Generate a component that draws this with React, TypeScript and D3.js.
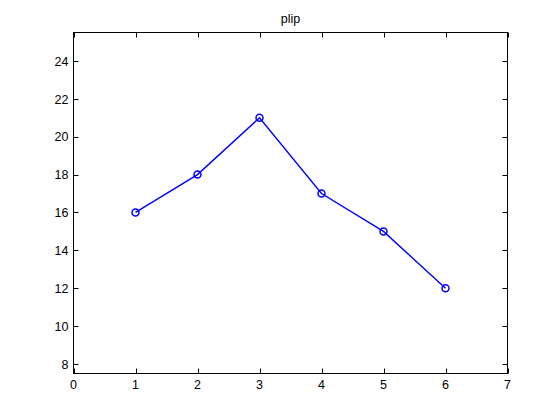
import React from "react";
import * as d3 from "d3";

const xValues = [1, 2, 3, 4, 5, 6];
const yValues = [16, 18, 21, 17, 15, 12];
const xTicks = [0, 1, 2, 3, 4, 5, 6, 7];
const yTicks = [8, 10, 12, 14, 16, 18, 20, 22, 24];
const title = "plip";

export default function App() {
  const W = 560, H = 420;
  const left = 73.5, right = 507.5, top = 32.5, bottom = 373.5;
  const x = d3.scaleLinear().domain([0, 7]).range([left, right]);
  const y = d3.scaleLinear().domain([7.5, 25.5]).range([bottom, top]);
  const line = d3.line<number>().x((_, i) => x(xValues[i])).y((d) => y(d));
  const font = "'Liberation Sans', Arial, sans-serif";
  const fs = 12.5;
  const tl = 5;
  return (
    <svg width={W} height={H} style={{ position: "absolute", left: 0, top: 0 }}>
      <rect x={0} y={0} width={W} height={H} fill="#fff" />
      <rect x={left} y={top} width={right - left} height={bottom - top} fill="none" stroke="#000" strokeWidth={1} />
      {xTicks.map((t) => (
        <g key={"x" + t}>
          <line x1={Math.round(x(t)) + 0.5} x2={Math.round(x(t)) + 0.5} y1={bottom} y2={bottom - tl} stroke="#000" />
          <line x1={Math.round(x(t)) + 0.5} x2={Math.round(x(t)) + 0.5} y1={top} y2={top + tl} stroke="#000" />
          <text x={x(t)} y={389} textAnchor="middle" fontSize={fs} fontFamily={font}>{t}</text>
        </g>
      ))}
      {yTicks.map((t) => (
        <g key={"y" + t}>
          <line x1={left} x2={left + tl} y1={Math.round(y(t)) + 0.5} y2={Math.round(y(t)) + 0.5} stroke="#000" />
          <line x1={right} x2={right - tl} y1={Math.round(y(t)) + 0.5} y2={Math.round(y(t)) + 0.5} stroke="#000" />
          <text x={68.5} y={y(t) + 4.7} textAnchor="end" fontSize={fs} fontFamily={font}>{t}</text>
        </g>
      ))}
      <path d={line(yValues) || ""} fill="none" stroke="#0000ff" strokeWidth={1.4} />
      {yValues.map((v, i) => (
        <circle key={i} cx={x(xValues[i])} cy={y(v)} r={3.5} fill="none" stroke="#0000ff" strokeWidth={1.5} />
      ))}
      <text x={(left + right) / 2} y={23} textAnchor="middle" fontSize={fs} fontFamily={font}>{title}</text>
    </svg>
  );
}
